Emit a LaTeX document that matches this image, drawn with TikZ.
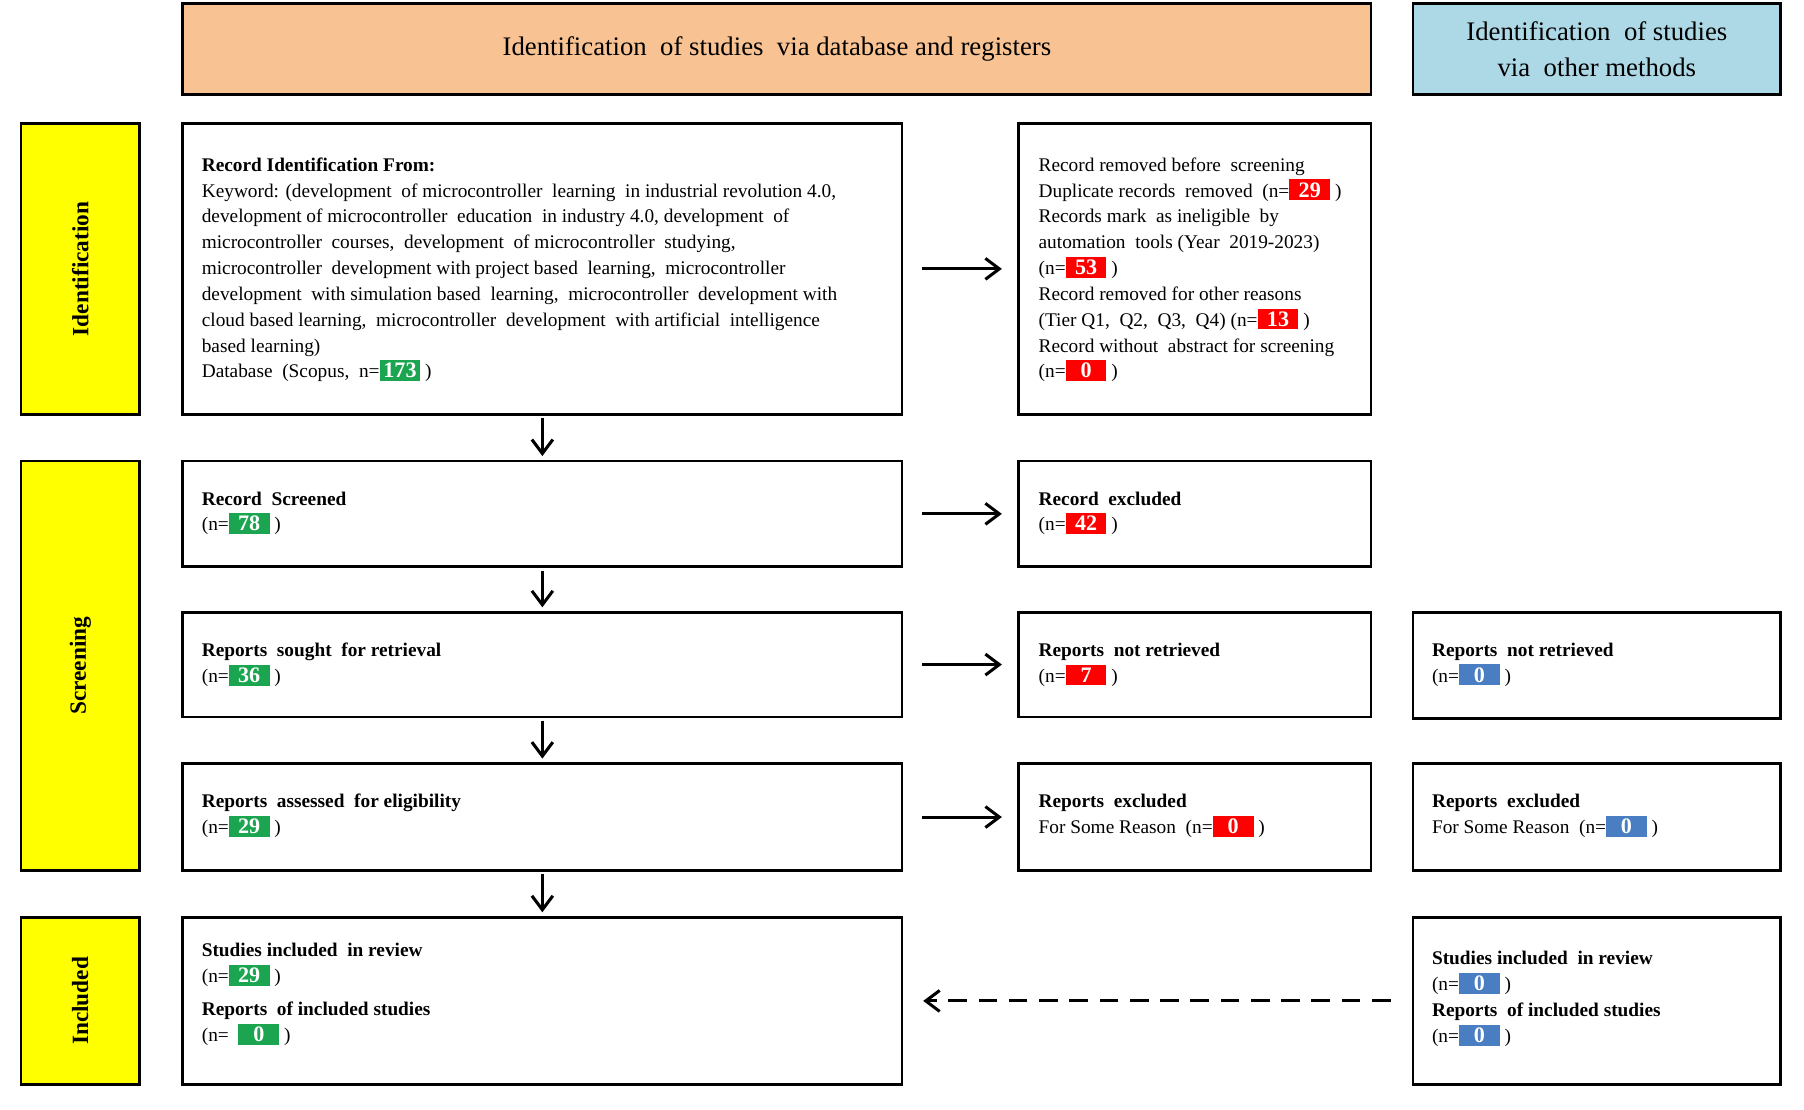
\documentclass[tikz,border=0pt]{standalone}
\usepackage{fontspec}
\setmainfont{Liberation Serif}
\usetikzlibrary{fit,arrows.meta}
\definecolor{gr}{HTML}{1BA550}
\definecolor{rd}{HTML}{FF0000}
\definecolor{bl}{HTML}{4A7EC2}
\definecolor{org}{HTML}{F8C293}
\definecolor{lb}{HTML}{ADD8E6}
\definecolor{yl}{HTML}{FFFF00}
\newcommand\badge[2]{{\setlength{\fboxsep}{1.3pt}\colorbox{#1}{\makebox[1.8em]{\textcolor{white}{\bfseries\fontsize{9.5}{10}\selectfont #2}}}}}
\newcommand\G[1]{\badge{gr}{#1}}
\newcommand\R[1]{\badge{rd}{#1}}
\newcommand\B[1]{\badge{bl}{#1}}
\begin{document}
\begin{tikzpicture}[x=0.5pt,y=-0.5pt,
  box/.style={draw=black,line width=1.2pt,inner sep=0pt},
  txt/.style={anchor=north west,align=left,inner sep=0pt,font=\fontsize{8.3}{11.1}\selectfont},
  side/.style={box,fill=yl},
  stxt/.style={rotate=90,font=\bfseries\fontsize{10}{12}\selectfont},
  arr/.style={-{Straight Barb[length=6pt,width=9pt,line width=1.3pt]},line width=1.3pt},
  harr/.style={arr,shorten <=8pt,shorten >=6.5pt}]
\useasboundingbox (0,0) rectangle (1550,953);
% headers
\node[box,fill=org,fit={(157,3)(1178,81)}] (h1) {};
\node[font=\fontsize{11.5}{14}\selectfont] at (h1.center) {Identification\ \ of studies\ \ via database and registers};
\node[box,fill=lb,fit={(1214,3)(1530,81)}] (h2) {};
\node[align=center,font=\fontsize{11.5}{15.5}\selectfont] at (h2.center) {Identification\ \ of studies\\via\ \ other methods};
% side labels
\node[side,fit={(18,106)(120,356)}] (s1) {};
\node[stxt] at (s1.center) {Identification};
\node[side,fit={(18,396)(120,748)}] (s2) {};
\node[stxt] at (s2.center) {Screening};
\node[side,fit={(18,788)(120,932)}] (s3) {};
\node[stxt] at (s3.center) {Included};
% main column
\node[box,fit={(157,106)(775,356)}] (m1) {};
\node[box,fit={(157,396)(775,487)}] (m2) {};
\node[box,fit={(157,526)(775,616)}] (m3) {};
\node[box,fit={(157,656)(775,748)}] (m4) {};
\node[box,fit={(157,788)(775,932)}] (m5) {};
% right column
\node[box,fit={(875,106)(1178,356)}] (r1) {};
\node[box,fit={(875,396)(1178,487)}] (r2) {};
\node[box,fit={(875,526)(1178,616)}] (r3) {};
\node[box,fit={(875,656)(1178,748)}] (r4) {};
% far right
\node[box,fit={(1214,526)(1530,617)}] (f3) {};
\node[box,fit={(1214,656)(1530,748)}] (f4) {};
\node[box,fit={(1214,788)(1530,932)}] (f5) {};
% texts
\node[txt] (tm1) at (173,135) {\textbf{Record Identification From:}\\
Keyword: (development\ \ of microcontroller\ \ learning\ \ in industrial revolution 4.0,\\
development of microcontroller\ \ education\ \ in industry 4.0, development\ \ of\\
microcontroller\ \ courses,\ \ development\ \ of microcontroller\ \ studying,\\
microcontroller\ \ development with project based\ \ learning,\ \ microcontroller\\
development\ \ with simulation based\ \ learning,\ \ microcontroller\ \ development with\\
cloud based learning,\ \ microcontroller\ \ development\ \ with artificial\ \ intelligence\\
based learning)\\
Database\ \ (Scopus,\ \ n=\G{173} )};
\node[txt] (tr1) at (892,135) {Record removed before\ \ screening\\
Duplicate records\ \ removed\ \ (n=\R{29} )\\
Records mark\ \ as ineligible\ \ by\\
automation\ \ tools (Year\ \ 2019-2023)\\
(n=\R{53} )\\
Record removed for other reasons\\
(Tier Q1,\ \ Q2,\ \ Q3,\ \ Q4) (n=\R{13} )\\
Record without\ \ abstract for screening\\
(n=\R{0} )};
\node[txt] (tm2) at (173,422) {\textbf{Record\ \ Screened}\\(n=\G{78} )};
\node[txt] (tr2) at (892,422) {\textbf{Record\ \ excluded}\\(n=\R{42} )};
\node[txt] (tm3) at (173,552) {\textbf{Reports\ \ sought\ \ for retrieval}\\(n=\G{36} )};
\node[txt] (tr3) at (892,552) {\textbf{Reports\ \ not retrieved}\\(n=\R{7} )};
\node[txt] (tf3) at (1230,552) {\textbf{Reports\ \ not retrieved}\\(n=\B{0} )};
\node[txt] (tm4) at (173,682) {\textbf{Reports\ \ assessed\ \ for eligibility}\\(n=\G{29} )};
\node[txt] (tr4) at (892,682) {\textbf{Reports\ \ excluded}\\For Some Reason\ \ (n=\R{0} )};
\node[txt] (tf4) at (1230,682) {\textbf{Reports\ \ excluded}\\For Some Reason\ \ (n=\B{0} )};
\node[txt] (tm5) at (173,810) {\textbf{Studies included\ \ in review}\\(n=\G{29} )\\[3.3pt]
\textbf{Reports\ \ of included studies}\\(n=\ \ \G{0} )};
\node[txt] (tf5) at (1230,817) {\textbf{Studies included\ \ in review}\\(n=\B{0} )\\
\textbf{Reports\ \ of included studies}\\(n=\B{0} )};
% arrows
\foreach \a/\b in {m1/m2,m2/m3,m3/m4,m4/m5}
  \draw[arr,shorten <=1pt,shorten >=1.5pt] (\a.south) -- (\b.north);
\foreach \a/\b in {m1/r1,m2/r2,m3/r3,m4/r4}
  \draw[harr] (\a.east) -- (\b.east -| \b.west);
\draw[arr,dashed,dash pattern=on 8pt off 5pt,shorten <=9pt,shorten >=8.5pt] (f5.west) -- (m5.east);
\end{tikzpicture}
\end{document}
